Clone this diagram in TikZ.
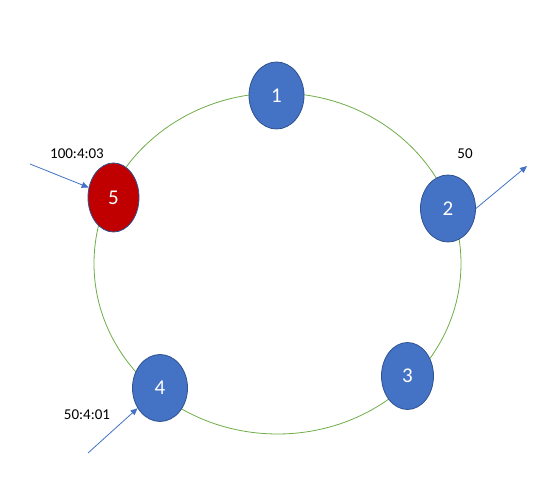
\documentclass[tikz,border=0pt]{standalone}
\usepackage{fontspec}
\setmainfont{Carlito}
\usetikzlibrary{arrows.meta}
\definecolor{nodeblue}{HTML}{4472C4}
\definecolor{nodeedge}{HTML}{2F528F}
\definecolor{nodered}{HTML}{C00000}
\definecolor{ringgreen}{HTML}{70AD47}
\tikzset{
  vert/.style={ellipse, draw=nodeedge, line width=0.8pt, fill=nodeblue, text=white,
    minimum width=55pt, minimum height=67pt, inner sep=0pt, font=\fontsize{21}{24}\selectfont},
  hotvert/.style={vert, fill=nodered},
  arr/.style={draw=nodeblue, line width=0.8pt, -{Triangle[length=7pt,width=6pt]}},
  lbl/.style={font=\fontsize{15}{18}\selectfont, text=black, inner sep=0pt},
  ring/.style={draw=ringgreen, line width=0.8pt}
}
\usetikzlibrary{shapes.geometric}
\begin{document}
\begin{tikzpicture}[x=1pt,y=-1pt]
\useasboundingbox (0,0) rectangle (558,481);
\fill[white] (0,0) rectangle (558,481);
\draw[ring] (277.5,263.5) ellipse [x radius=183.5, y radius=170.5];
\node[vert] (n1) at (276.5,95.5) {1};
\node[vert] (n2) at (448,208.5) {2};
\node[vert, minimum width=52pt] (n3) at (407.5,376) {3};
\node[vert] (n4) at (160,388) {4};
\node[hotvert, minimum width=51pt, minimum height=69pt] (n5) at (113.5,197.5) {5};
\coordinate (in5) at (30,164);
\coordinate (out2) at (527,166);
\coordinate (in4) at (88,453);
\draw[arr] (in5) -- (n5);
\draw[arr] (n2.east) -- (out2);
\draw[arr] (in4) -- (n4);
\node[lbl] (l5) at (77,154) {100:4:03};
\node[lbl] (l2) at (465,154) {50};
\node[lbl] (l4) at (87,415) {50:4:01};
\end{tikzpicture}
\end{document}
